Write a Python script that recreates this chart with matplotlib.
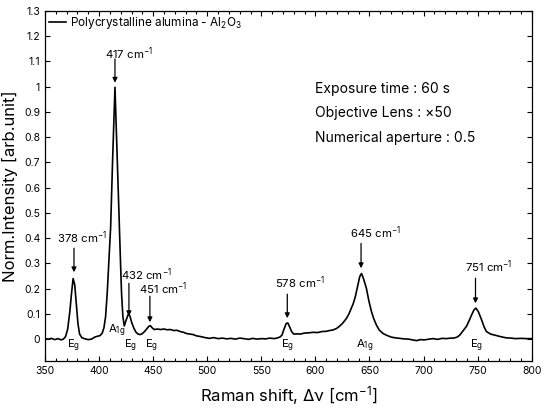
import matplotlib
matplotlib.use("Agg")
import matplotlib.pyplot as plt
from matplotlib.ticker import MultipleLocator, FuncFormatter

plt.rcParams["font.family"] = ["Inter", "DejaVu Sans"]
plt.rcParams["mathtext.fontset"] = "custom"
plt.rcParams["mathtext.rm"] = "Inter"
plt.rcParams["mathtext.it"] = "Inter"
plt.rcParams["mathtext.bf"] = "Inter"

# ---- spectrum ----
shift = [350, 353, 356, 359, 362, 365, 367, 369, 371, 373, 374.5, 376, 377.5, 379, 380.5,
         382, 384, 387, 390, 393, 396, 399, 401, 403, 404.5, 406, 407.5, 409, 410.7, 412.5,
         414.7, 416.8, 418.7, 420, 420.8, 422, 423.3, 425, 427, 428.5, 430, 432, 434, 436,
         438, 440, 442, 444, 446, 447.5, 449, 451, 454, 457, 460, 463, 466, 469, 472, 475,
         478, 481, 484, 487, 490, 494, 498, 502, 506, 510, 514, 518, 522, 526, 530, 534,
         538, 542, 546, 550, 554, 558, 562, 565, 567, 569, 571, 573, 574.5, 576, 578, 580,
         583, 586, 590, 594, 598, 602, 606, 610, 613, 616, 619.5, 622, 625, 628.7, 631, 633,
         635, 637, 639.5, 641, 642.6, 644, 645.5, 647.2, 649.5, 651.9, 654, 656.5, 659,
         662.6, 666, 670, 674, 678, 682, 686, 690, 693.5, 697, 701, 705, 709, 713, 717, 721,
         725, 728, 731, 733.5, 736, 739.7, 742, 744.3, 746.5, 748.3, 750.5, 753.5, 756,
         758.1, 762, 767.4, 772, 776.6, 781, 785, 790, 795, 800]
intensity = [0.002, 0.000, 0.003, -0.002, 0.002, -0.003, 0.000, 0.010, 0.040, 0.110, 0.180,
             0.240, 0.215, 0.140, 0.060, 0.020, 0.006, 0.001, -0.002, 0.000, 0.008, 0.012,
             0.014, 0.025, 0.045, 0.088, 0.180, 0.300, 0.444, 0.708, 0.998, 0.708, 0.444,
             0.280, 0.180, 0.090, 0.052, 0.075, 0.099, 0.092, 0.068, 0.045, 0.028, 0.020,
             0.018, 0.022, 0.030, 0.040, 0.051, 0.053, 0.045, 0.038, 0.040, 0.038, 0.040,
             0.037, 0.038, 0.034, 0.035, 0.030, 0.027, 0.022, 0.020, 0.018, 0.013, 0.010,
             0.006, 0.003, 0.006, 0.002, 0.004, 0.001, 0.003, 0.000, 0.004, 0.002, -0.001,
             0.003, 0.000, 0.002, 0.001, 0.004, 0.002, 0.005, 0.008, 0.015, 0.040, 0.062,
             0.064, 0.050, 0.030, 0.020, 0.021, 0.020, 0.024, 0.025, 0.027, 0.026, 0.030,
             0.031, 0.034, 0.036, 0.042, 0.050, 0.062, 0.082, 0.100, 0.120, 0.141, 0.170,
             0.220, 0.248, 0.260, 0.245, 0.225, 0.200, 0.150, 0.108, 0.080, 0.055, 0.036,
             0.022, 0.015, 0.008, 0.005, 0.003, 0.001, 0.000, -0.003, -0.006, -0.002, -0.003,
             0.000, 0.002, -0.001, 0.003, 0.002, 0.004, 0.004, 0.008, 0.016, 0.030, 0.051,
             0.072, 0.095, 0.115, 0.123, 0.110, 0.078, 0.048, 0.030, 0.020, 0.014, 0.009,
             0.005, 0.004, 0.002, 0.003, 0.002, 0.002]

# ---- peak annotations: label, arrow x, arrow tail y, arrow tip y, text left x, text y ----
peak_labels = ["378", "417", "432", "451", "578", "645", "751"]
arrow_x = [376.8, 414.7, 427.6, 447.0, 574.0, 642.2, 748.0]
arrow_tail = [0.36, 1.11, 0.221, 0.17, 0.178, 0.379, 0.241]
arrow_tip = [0.265, 1.016, 0.091, 0.067, 0.083, 0.281, 0.142]
label_x = [361.1, 405.4, 420.2, 436.9, 562.5, 631.8, 738.1]
label_y = [0.403, 1.13, 0.257, 0.20, 0.225, 0.423, 0.285]

# ---- vibrational mode symbols ----
mode_names = ["E_g", "A_{1g}", "E_g", "E_g", "E_g", "A_{1g}", "E_g"]
mode_x = [376.8, 416.5, 429.5, 448.9, 574.3, 645.7, 748.9]
mode_y = [-0.028, 0.032, -0.028, -0.028, -0.028, -0.028, -0.028]

info_lines = ["Exposure time : 60 s", "Objective Lens : \u00d750", "Numerical aperture : 0.5"]

fig = plt.figure(figsize=(5.5, 4.08), dpi=100)
ax = fig.add_axes([0.0818, 0.115, 0.885, 0.858])

ax.plot(shift, intensity, color="black", lw=1.2,
        label="Polycrystalline alumina - Al$_2$O$_3$")

for lab, ax_, t0, t1, lx, ly in zip(peak_labels, arrow_x, arrow_tail, arrow_tip, label_x, label_y):
    ax.annotate("", xy=(ax_, t1), xytext=(ax_, t0),
                arrowprops=dict(arrowstyle="-|>", color="black", lw=0.9,
                                mutation_scale=7, shrinkA=0, shrinkB=0))
    ax.text(lx, ly, lab + " cm$^{-1}$", fontsize=8.2, ha="left", va="center")

for name, mx, my in zip(mode_names, mode_x, mode_y):
    sub = name.split("_")
    ax.text(mx, my, "%s$_\\mathrm{%s}$" % (sub[0], sub[1].strip("{}")),
            fontsize=8.2, ha="center", va="center")

for i, line in enumerate(info_lines):
    ax.text(0.554, 0.778 - i * 0.07, line, transform=ax.transAxes,
            fontsize=10, ha="left", va="center")

ax.set_xlim(350, 800)
ax.set_ylim(-0.087, 1.3)
ax.xaxis.set_major_locator(MultipleLocator(50))
ax.xaxis.set_minor_locator(MultipleLocator(10))
ax.yaxis.set_major_locator(MultipleLocator(0.1))
ax.yaxis.set_major_formatter(FuncFormatter(lambda v, p: "%g" % round(v, 2) if v > -0.01 else ""))
ax.tick_params(which="both", direction="in", top=True, right=True, labelsize=7.5, width=0.8)
ax.tick_params(which="major", length=3.5)
ax.tick_params(which="minor", length=2)
for sp in ax.spines.values():
    sp.set_linewidth(0.9)

ax.set_xlabel("Raman shift, \u0394\u03bd [cm$^{-1}$]", fontsize=12, labelpad=6)
ax.set_ylabel("Norm.Intensity [arb.unit]", fontsize=12, labelpad=4)

ax.legend(loc="upper left", frameon=False, fontsize=8.5, handlelength=1.4,
          handletextpad=0.4, borderaxespad=0.15, borderpad=0.2)

fig.savefig("out.png", dpi=100)
